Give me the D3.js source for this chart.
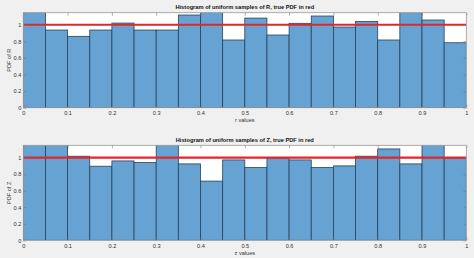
<!DOCTYPE html>
<html>
<head>
<meta charset="utf-8">
<script src="https://cdnjs.cloudflare.com/ajax/libs/d3/7.8.5/d3.min.js"></script>
<style>
  body { margin: 0; background: #f0f0f0; }
  svg { display: block; }
  .tick text { font-family: "Liberation Sans", Arial, sans-serif; font-size: 5.6px; fill: #333; }
</style>
</head>
<body>
<div id="chart"></div>
<script>
// bin edges 0..1 step 0.05
var binEdges = d3.range(0, 21).map(function (i) { return i / 20; });

// pdf estimates
var rPdf = [1.15, 0.936, 0.86, 0.936, 1.02, 0.936, 0.936, 1.117, 1.15, 0.816,
            1.08, 0.876, 1.017, 1.105, 0.972, 1.04, 0.816, 1.15, 1.057, 0.783];
var zPdf = [1.16, 1.16, 1.017, 0.896, 0.96, 0.94, 1.16, 0.924, 0.716, 0.972,
            0.88, 0.996, 0.972, 0.88, 0.9, 1.017, 1.105, 0.924, 1.16, 0.996];

var truePdf = 1;
var xTicks = d3.range(0, 11).map(function (i) { return i / 10; });
var yTicks = [0, 0.2, 0.4, 0.6, 0.8, 1];

var panels = [
  {title: "Histogram of uniform samples of R, true PDF in red", ylabel: "PDF of R", xlabel: "r values", values: rPdf, top: 12.7, ymax: 1.145},
  {title: "Histogram of uniform samples of Z, true PDF in red", ylabel: "PDF of Z", xlabel: "z values", values: zPdf, top: 145.3, ymax: 1.149}
];

var W = 474, H = 258;
var left = 23.3, right = 466.3, plotH = 95;

var svg = d3.select("#chart").append("svg")
  .attr("width", W).attr("height", H);

var x = d3.scaleLinear().domain([0, 1]).range([left, right]);

var fmt = function (d) { return d === 0 || d === 1 ? d3.format("d")(d) : d3.format(".1f")(d); };

panels.forEach(function (p, k) {
  var y = d3.scaleLinear().domain([0, p.ymax]).range([p.top + plotH, p.top]);

  var g = svg.append("g");

  g.append("rect")
    .attr("x", left).attr("y", p.top)
    .attr("width", right - left).attr("height", plotH)
    .style("fill", "#fff");

  g.append("clipPath").attr("id", "clip" + k)
    .append("rect")
    .attr("x", left).attr("y", p.top)
    .attr("width", right - left).attr("height", plotH);

  var plot = g.append("g").attr("clip-path", "url(#clip" + k + ")");

  plot.selectAll("rect.bar")
    .data(p.values)
    .enter().append("rect")
    .attr("class", "bar")
    .attr("x", function (d, i) { return x(binEdges[i]); })
    .attr("width", function (d, i) { return x(binEdges[i + 1]) - x(binEdges[i]); })
    .attr("y", function (d) { return y(d); })
    .attr("height", function (d) { return y(0) - y(d); })
    .style("fill", "#66a3d2")
    .style("stroke", "#24435f")
    .style("stroke-width", 0.8);

  plot.append("line")
    .attr("x1", x(0)).attr("x2", x(1))
    .attr("y1", y(truePdf)).attr("y2", y(truePdf))
    .style("stroke", "#e3262a")
    .style("stroke-width", 2.2);

  // axes, ticks inside like matlab
  var xAxis = d3.axisBottom(x).tickValues(xTicks).tickSize(-3).tickPadding(3.5).tickFormat(fmt);
  var yAxis = d3.axisLeft(y).tickValues(yTicks).tickSize(-3).tickPadding(2).tickFormat(fmt);

  var gx = g.append("g").attr("transform", "translate(0," + (p.top + plotH) + ")").call(xAxis);
  var gy = g.append("g").attr("transform", "translate(" + left + ",0)").call(yAxis);
  var gxt = g.append("g").attr("transform", "translate(0," + p.top + ")")
    .call(d3.axisTop(x).tickValues(xTicks).tickSize(-3).tickFormat(""));
  var gyr = g.append("g").attr("transform", "translate(" + right + ",0)")
    .call(d3.axisRight(y).tickValues(yTicks).tickSize(-3).tickFormat(""));

  [gx, gy, gxt, gyr].forEach(function (a) {
    a.select(".domain").remove();
    a.selectAll(".tick line").style("stroke", "#777").style("stroke-width", 0.6);
  });

  g.append("rect")
    .attr("x", left).attr("y", p.top)
    .attr("width", right - left).attr("height", plotH)
    .style("fill", "none").style("stroke", "#999").style("stroke-width", 0.8);

  g.append("text")
    .attr("x", (left + right) / 2).attr("y", p.top - 3.5)
    .attr("text-anchor", "middle")
    .style("font-family", "Liberation Sans, Arial, sans-serif")
    .style("font-size", "5.7px").style("font-weight", "bold").style("fill", "#111")
    .text(p.title);

  g.append("text")
    .attr("x", (left + right) / 2).attr("y", p.top + plotH + 14.5)
    .attr("text-anchor", "middle")
    .style("font-family", "Liberation Sans, Arial, sans-serif")
    .style("font-size", "5.6px").style("fill", "#333")
    .text(p.xlabel);

  g.append("text")
    .attr("transform", "translate(11," + y(p.ymax / 2) + ") rotate(-90)")
    .attr("text-anchor", "middle")
    .style("font-family", "Liberation Sans, Arial, sans-serif")
    .style("font-size", "5.6px").style("fill", "#333")
    .text(p.ylabel);
});
</script>
</body>
</html>
